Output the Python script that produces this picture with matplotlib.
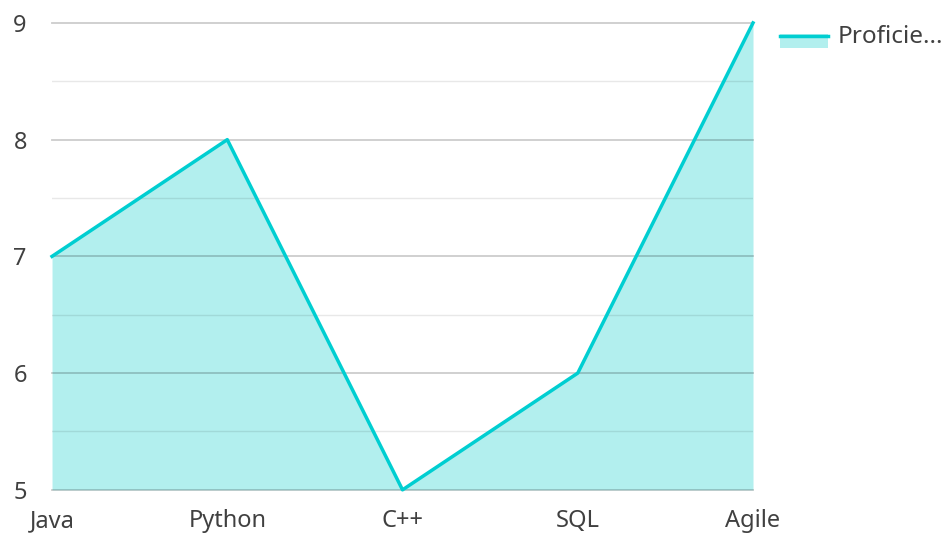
import matplotlib
matplotlib.use("Agg")
import matplotlib.pyplot as plt
from matplotlib.patches import Rectangle
from matplotlib.lines import Line2D

# data
skills = ["Java", "Python", "C++", "SQL", "Agile"]
proficiency = [7, 8, 5, 6, 9]
y_ticks = [5, 6, 7, 8, 9]
y_minor = [5.5, 6.5, 7.5, 8.5]
legend_label = "Proficie..."

line_color = "#00CED1"
fill_color = "#B2EFEE"
text_color = "#404040"

plt.rcParams["font.family"] = ["Noto Sans", "DejaVu Sans"]

fig = plt.figure(figsize=(9.46, 5.33), dpi=100)
ax = fig.add_axes([0.055, 0.081, 0.741, 0.876])

x = list(range(len(skills)))
ax.fill_between(x, proficiency, 5, color=fill_color, lw=0, zorder=1)
for v in y_minor:
    ax.axhline(v, color="#000000", alpha=0.09, lw=1, zorder=2)
for v in y_ticks:
    ax.axhline(v, color="#000000", alpha=0.2, lw=1.3, zorder=2, clip_on=False)
ax.plot(x, proficiency, color=line_color, lw=2.5, zorder=3, clip_on=False)

ax.set_xlim(0, len(skills) - 1)
ax.set_ylim(5, 9)
ax.set_xticks(x)
ax.set_xticklabels(skills)
ax.set_yticks(y_ticks)
ax.tick_params(axis="both", length=0, labelsize=17, labelcolor=text_color)
ax.tick_params(axis="x", pad=14)
ax.tick_params(axis="y", pad=23)
for lab in ax.get_yticklabels():
    lab.set_horizontalalignment("center")
for s in ax.spines.values():
    s.set_visible(False)

# legend
W, H = fig.get_size_inches() * fig.dpi
fig.add_artist(Rectangle((780 / W, 1 - 48 / H), 48 / W, 14 / H,
                         transform=fig.transFigure, color=fill_color, lw=0))
fig.add_artist(Line2D([780 / W, 828 / W], [1 - 36 / H, 1 - 36 / H],
                      transform=fig.transFigure, color=line_color, lw=2.5))
fig.text(838 / W, 1 - 37 / H, legend_label, fontsize=17.5, color=text_color,
         va="center", ha="left")

fig.savefig("out.png", dpi=100)
